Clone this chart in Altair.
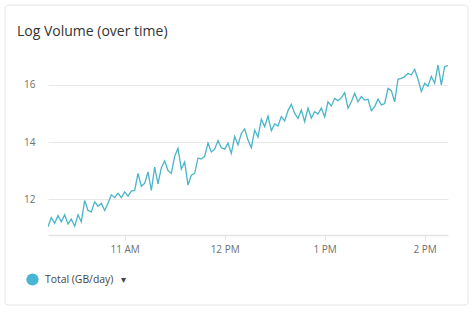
import altair as alt
import pandas as pd

series_name = "Total (GB/day)"
start_time = "2024-01-01 10:14:00"
step_minutes = 2
values = [
    11.03, 11.35, 11.15, 11.42, 11.20, 11.45, 11.12, 11.30, 11.05, 11.45,
    11.20, 11.95, 11.60, 11.55, 11.90, 11.75, 11.85, 11.60, 11.85, 12.15,
    12.05, 12.20, 12.05, 12.25, 12.10, 12.28, 12.30, 12.90, 12.45, 12.55,
    12.95, 12.30, 13.12, 12.53, 13.10, 13.34, 13.00, 12.90, 13.50, 13.78,
    13.05, 13.30, 12.49, 12.84, 12.90, 13.44, 13.40, 13.50, 13.96, 13.65,
    13.75, 14.05, 13.80, 13.75, 13.96, 13.60, 14.19, 13.90, 14.30, 14.46,
    14.07, 13.80, 14.42, 14.17, 14.80, 14.54, 14.91, 14.40, 14.63, 14.56,
    14.89, 14.74, 15.10, 15.32, 15.00, 14.83, 15.12, 14.71, 15.19, 14.84,
    15.06, 14.98, 15.19, 14.88, 15.41, 15.26, 15.53, 15.45, 15.55, 15.73,
    15.19, 15.41, 15.71, 15.41, 15.59, 15.47, 15.50, 15.10, 15.24, 15.50,
    15.30, 15.35, 15.88, 15.80, 15.41, 16.20, 16.23, 16.29, 16.41, 16.35,
    16.55, 16.20, 15.77, 16.06, 15.96, 16.30, 16.06, 16.70, 16.00, 16.65,
    16.68,
]
hour_ticks = [11, 12, 13, 14]
y_ticks = [12, 14, 16]

times = pd.date_range(start_time, periods=len(values), freq=f"{step_minutes}min")
df = pd.DataFrame({"time": times.strftime("%Y-%m-%dT%H:%M:%S"), "value": values, "series": series_name})

FONT = "Open Sans"
LINE = "#4ab5c9"

card = alt.Chart(pd.DataFrame({"a": [0]})).mark_rect(
    fill="transparent", stroke="#e6e6e6", strokeWidth=1, cornerRadius=3, clip=False
).encode(x=alt.value(-43), x2=alt.value(420), y=alt.value(-50), y2=alt.value(250))

line = alt.Chart(df).mark_line(strokeWidth=1.3, clip=True).encode(
    x=alt.X(
        "time:T",
        scale=alt.Scale(domain=[df["time"].iloc[0], df["time"].iloc[-1]], nice=False),
        axis=alt.Axis(
            title=None,
            values=[alt.DateTime(year=2024, month=1, date=1, hours=h) for h in hour_ticks],
            format="%-I %p",
            grid=False,
            domainColor="#e3e3e8",
            domainWidth=1.5,
            tickColor="#e3e3e8",
            tickSize=5,
            labelColor="#707070",
            labelFontSize=10,
            labelFont=FONT,
            labelPadding=4,
        ),
    ),
    y=alt.Y(
        "value:Q",
        scale=alt.Scale(domain=[10.74, 17.05], nice=False, zero=False),
        axis=alt.Axis(
            title=None,
            values=y_ticks,
            grid=True,
            gridColor="#e8e8e8",
            gridWidth=1,
            domain=False,
            ticks=False,
            labelColor="#707070",
            labelFontSize=10,
            labelFont=FONT,
            labelPadding=13,
        ),
    ),
    color=alt.Color(
        "series:N",
        scale=alt.Scale(range=[LINE]),
        legend=alt.Legend(
            title=None,
            orient="none",
            legendX=-22,
            legendY=218,
            symbolType="circle",
            symbolSize=150,
            symbolFillColor="#47b5d3",
            symbolStrokeWidth=0,
            symbolOpacity=1,
            labelFont=FONT,
            labelFontSize=10.4,
            labelColor="#444444",
            labelExpr="datum.label + '\u00a0\u00a0\u00a0▾'",
            labelOffset=6,
        ),
    ),
)

chart = alt.layer(card, line).properties(
    width=400,
    height=180,
    padding={"left": 48, "top": 55, "right": 26, "bottom": 77},
    autosize=alt.AutoSizeParams(type="none"),
    background="white",
    title=alt.TitleParams(
        "Log Volume (over time)",
        anchor="start",
        frame="group",
        dx=-31,
        offset=-45,
        baseline="alphabetic",
        font=FONT,
        fontSize=14,
        fontWeight="normal",
        color="#333333",
    ),
).configure_view(stroke=None)

chart.save("out.html", embed_options={"renderer": "svg", "actions": False})
